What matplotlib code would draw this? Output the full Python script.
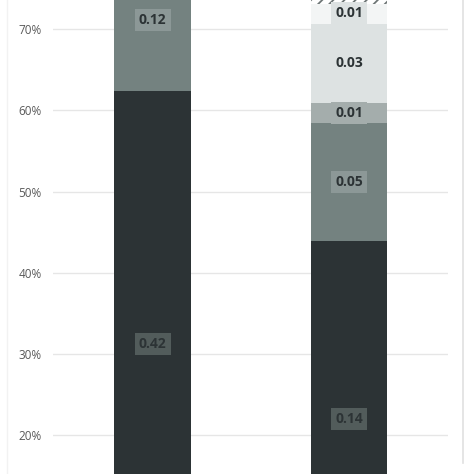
import matplotlib
matplotlib.use('Agg')
import matplotlib.pyplot as plt
import numpy as np

# segment heights (percent) of each stacked bar, bottom to top
bar1_vals = [62.4, 17.4]
bar1_labels = ['0.42', '0.12']
bar2_vals = [43.9, 14.6, 2.4, 9.8, 2.5]
bar2_labels = ['0.14', '0.05', '0.01', '0.03', '0.01']
yticks = [20, 30, 40, 50, 60, 70]

colors = ['#2c3335', '#748280', '#a4adac', '#dde2e2', '#f3f5f5']
box_colors = ['#525c5b', '#8c9897', '#a4adac', '#dde2e2', '#dde2e2']

plt.rcParams['font.family'] = ['Open Sans', 'DejaVu Sans']
plt.rcParams['hatch.linewidth'] = 1.3

fig = plt.figure(figsize=(4.74, 4.74), dpi=100)
ax = fig.add_axes([53/474, 0, (448-53)/474, 1])

width = 0.39


def stack(x, vals, labels):
    bottom = 0
    for i, (v, lab) in enumerate(zip(vals, labels)):
        ax.bar(x, v, width, bottom=bottom, color=colors[i], edgecolor='none',
               linewidth=0, zorder=3)
        ax.text(x, bottom + v/2, lab, ha='center', va='center', fontsize=10,
                fontweight='bold', color='#2c3335', zorder=4,
                bbox=dict(boxstyle='square,pad=0.3', fc=box_colors[i], ec='none'))
        bottom += v
    return bottom


stack(0, bar1_vals, bar1_labels)
top2 = stack(1, bar2_vals, bar2_labels)
# break marker on top of the second bar
ax.bar(1, 0.45, width, bottom=top2 - 0.05, color='white', edgecolor='#6e7676',
       hatch='///', linewidth=0, zorder=3)

ax.set_xlim(-0.507, 1.504)
ax.set_ylim(15.2, 73.6)
ax.set_yticks(yticks)
ax.set_yticklabels([f'{t}%' for t in yticks], fontsize=8.5, color='#595959')
ax.tick_params(axis='y', length=0, pad=8)
ax.set_xticks([])
ax.grid(axis='y', color='#e6e6e6', linewidth=1, zorder=0)
for s in ax.spines.values():
    s.set_visible(False)

# chart frame lines
fig.add_artist(plt.Line2D([7/474, 7/474], [0, 1], color='#f2f2f2', lw=1))
fig.add_artist(plt.Line2D([463/474, 463/474], [11/474, 1], color='#e0e0e0', lw=1.2))

fig.savefig('out.png', dpi=100)
